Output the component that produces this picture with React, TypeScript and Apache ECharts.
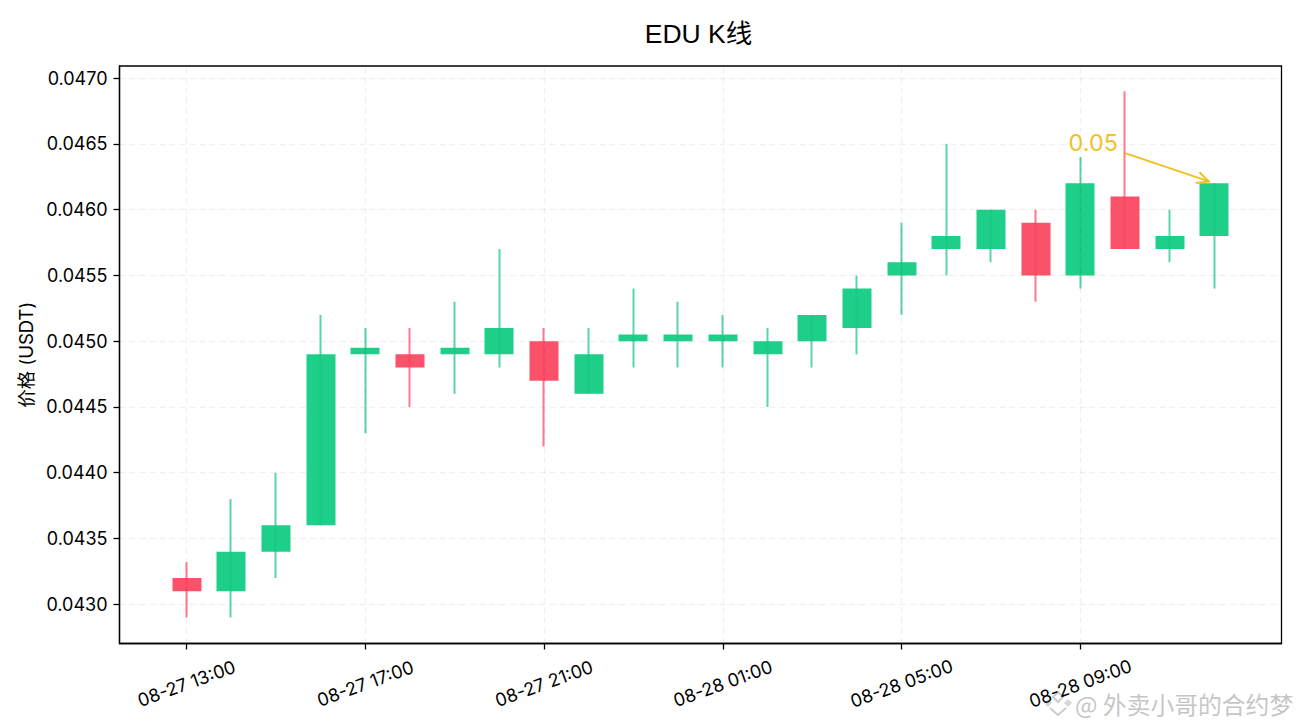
import React, { useEffect, useRef } from "react";
import * as echarts from "echarts";

const categories = ["", "08-27 13:00", "08-27 14:00", "08-27 15:00", "08-27 16:00", "08-27 17:00", "08-27 18:00", "08-27 19:00", "08-27 20:00", "08-27 21:00", "08-27 22:00", "08-27 23:00", "08-28 00:00", "08-28 01:00", "08-28 02:00", "08-28 03:00", "08-28 04:00", "08-28 05:00", "08-28 06:00", "08-28 07:00", "08-28 08:00", "08-28 09:00", "08-28 10:00", "08-28 11:00", "08-28 12:00", " "];
const opens = [0.0432, 0.0431, 0.0434, 0.0436, 0.0449, 0.0449, 0.0449, 0.0449, 0.045, 0.0446, 0.045, 0.045, 0.045, 0.0449, 0.045, 0.0451, 0.0455, 0.0457, 0.0457, 0.0459, 0.0455, 0.0461, 0.0457, 0.0458];
const closes = [0.0431, 0.0434, 0.0436, 0.0449, 0.04495, 0.0448, 0.04495, 0.0451, 0.0447, 0.0449, 0.04505, 0.04505, 0.04505, 0.045, 0.0452, 0.0454, 0.0456, 0.0458, 0.046, 0.0455, 0.0462, 0.0457, 0.0458, 0.0462];
const lows = [0.0429, 0.0429, 0.0432, 0.0436, 0.0443, 0.0445, 0.0446, 0.0448, 0.0442, 0.0446, 0.0448, 0.0448, 0.0448, 0.0445, 0.0448, 0.0449, 0.0452, 0.0455, 0.0456, 0.0453, 0.0454, 0.0457, 0.0456, 0.0454];
const highs = [0.04332, 0.0438, 0.044, 0.0452, 0.0451, 0.0451, 0.0453, 0.0457, 0.0451, 0.0451, 0.0454, 0.0453, 0.0452, 0.0451, 0.0452, 0.0455, 0.0459, 0.0465, 0.046, 0.046, 0.0464, 0.0469, 0.046, 0.0462];
const yTicks = [0.043, 0.0435, 0.044, 0.0445, 0.045, 0.0455, 0.046, 0.0465, 0.047];
const xTickLabels = ["08-27 13:00", "08-27 17:00", "08-27 21:00", "08-28 01:00", "08-28 05:00", "08-28 09:00"];
const titleText = "EDU K线";
const yAxisName = "价格 (USDT)";
const annotationText = "0.05";
const annotationFrom = ["08-28 10:00", 0.04643];
const annotationTo = ["08-28 12:00", 0.0462];
const watermarkText = "@ 外卖小哥的合约梦";

const CJK = "'Noto Sans CJK SC', sans-serif";
const TITLE_FONT = "'Liberation Sans', " + CJK;
const FONT = "Inter, " + CJK;
const UP = "#16C784";
const DOWN = "#FF4560";
const UP_BODY = "#1ACE88";
const DOWN_BODY = "#FA4F68";
const GOLD = "#F0B90B";
const GRID_LINE = { color: "#000", opacity: 0.06, type: [6, 4], width: 1.3 };

function candleData() {
  const rows = opens.map((o, i) => [o, closes[i], lows[i], highs[i]]);
  return [["-", "-", "-", "-"], ...rows, ["-", "-", "-", "-"]];
}

export default function App() {
  const ref = useRef<HTMLDivElement>(null);
  useEffect(() => {
    const chart = echarts.init(ref.current!, undefined, { renderer: "svg" });
    const data = candleData();
    chart.setOption({
      animation: false,
      backgroundColor: "#fff",
      title: {
        text: titleText,
        left: 693.5,
        top: 16,
        textAlign: "center",
        textStyle: { fontFamily: TITLE_FONT, fontSize: 26.5, fontWeight: "normal", color: "#000" },
      },
      grid: { left: 119.5, right: 18.5, top: 66, bottom: 84.5, show: false },
      xAxis: {
        type: "category",
        data: categories,
        boundaryGap: true,
        axisLine: { show: true, onZero: false, lineStyle: { color: "#000", width: 1.3 } },
        axisTick: {
          show: true,
          alignWithLabel: true,
          length: 6,
          lineStyle: { color: "#000", width: 1.3 },
          customValues: xTickLabels.map((l) => categories.indexOf(l)),
        },
        axisLabel: {
          show: true,
          customValues: xTickLabels.map((l) => categories.indexOf(l)),
          rotate: 20,
          align: "center",
          verticalAlign: "middle",
          margin: 40,
          fontFamily: FONT,
          fontSize: 18,
          color: "#000",
          hideOverlap: false,
        },
        splitLine: { show: false },
      },
      yAxis: {
        type: "value",
        min: 0.042702,
        max: 0.047092,
        splitNumber: 8,
        name: yAxisName,
        nameLocation: "middle",
        nameGap: 78,
        nameTextStyle: { fontFamily: FONT, fontSize: 18.5, color: "#000" },
        axisLine: { show: true, lineStyle: { color: "#000", width: 1.3 } },
        axisTick: { show: true, length: 6, lineStyle: { color: "#000", width: 1.3 }, customValues: yTicks },
        axisLabel: {
          customValues: yTicks,
          margin: 12,
          fontFamily: FONT,
          fontSize: 18,
          color: "#000",
          formatter: (v: number) => v.toFixed(4),
        },
        splitLine: { show: true, lineStyle: GRID_LINE },
      },
      series: [
        {
          name: "vgrid",
          type: "line",
          data: [],
          z: 1,
          silent: true,
          markLine: {
            silent: true,
            symbol: "none",
            label: { show: false },
            lineStyle: GRID_LINE,
            data: xTickLabels.map((l) => ({ xAxis: l })),
          },
        },
        {
          name: "body",
          type: "candlestick",
          data,
          barWidth: 29.5,
          z: 2,
          itemStyle: {
            color: UP_BODY,
            color0: DOWN_BODY,
            borderColor: "transparent",
            borderColor0: "transparent",
            borderWidth: 0,
            opacity: 0.98,
          },
        },
        {
          name: "wick",
          type: "candlestick",
          data,
          barWidth: 0.1,
          z: 3,
          itemStyle: {
            color: "transparent",
            color0: "transparent",
            borderColor: UP,
            borderColor0: DOWN,
            borderWidth: 2,
            opacity: 0.72,
          },
        },
        {
          name: "annotation",
          type: "custom",
          z: 5,
          clip: false,
          silent: true,
          data: [[0]],
          renderItem: (_p: any, api: any) => {
            const a = api.coord(annotationFrom);
            const b = api.coord(annotationTo);
            const ang = Math.atan2(b[1] - a[1], b[0] - a[0]);
            const tip = [b[0] - 6 * Math.cos(ang), b[1] - 6 * Math.sin(ang)];
            const head = (d: number) => [
              tip[0] - 13 * Math.cos(ang + d),
              tip[1] - 13 * Math.sin(ang + d),
            ];
            return {
              type: "group",
              children: [
                { type: "line", shape: { x1: a[0], y1: a[1], x2: tip[0], y2: tip[1] }, style: { stroke: GOLD, lineWidth: 2, opacity: 0.9 } },
                { type: "polyline", shape: { points: [head(0.45), tip, head(-0.45)] }, style: { stroke: GOLD, fill: "none", lineWidth: 2, opacity: 0.9 } },
                { type: "text", style: { text: annotationText, x: a[0] - 7, y: a[1] - 10.5, align: "right", verticalAlign: "middle", fontFamily: FONT, fontSize: 23.5, fill: GOLD, opacity: 0.9 } },
              ],
            };
          },
        },
      ],
      graphic: [
        { type: "rect", z: 10, silent: true, shape: { x: 119.5, y: 66, width: 1162, height: 577.5 }, style: { fill: "none", stroke: "#000", lineWidth: 1.3 } },
        { type: "group", z: 20, silent: true, children: [
          { type: "polygon", shape: { points: [[1058, 692], [1063, 697], [1058, 702], [1053, 697]] }, style: { fill: "none", stroke: "#ccc", lineWidth: 2 } },
          { type: "polygon", shape: { points: [[1048, 699], [1052, 703], [1048, 707], [1044, 703]] }, style: { fill: "#ccc", opacity: 0.8 } },
          { type: "polygon", shape: { points: [[1068, 699], [1072, 703], [1068, 707], [1064, 703]] }, style: { fill: "#ccc", opacity: 0.8 } },
          { type: "polyline", shape: { points: [[1050, 708], [1058, 715], [1066, 708]] }, style: { stroke: "#ccc", fill: "none", lineWidth: 2 } },
          { type: "text", style: { text: watermarkText, x: 1075, y: 703, verticalAlign: "middle", fontFamily: "'Noto Sans CJK SC', sans-serif", fontSize: 23.8, fill: "#bbb", opacity: 0.85 } },
        ] },
      ],
    });
    return () => chart.dispose();
  }, []);
  return <div ref={ref} style={{ position: "fixed", left: 0, top: 0, width: 1300, height: 728 }} />;
}
